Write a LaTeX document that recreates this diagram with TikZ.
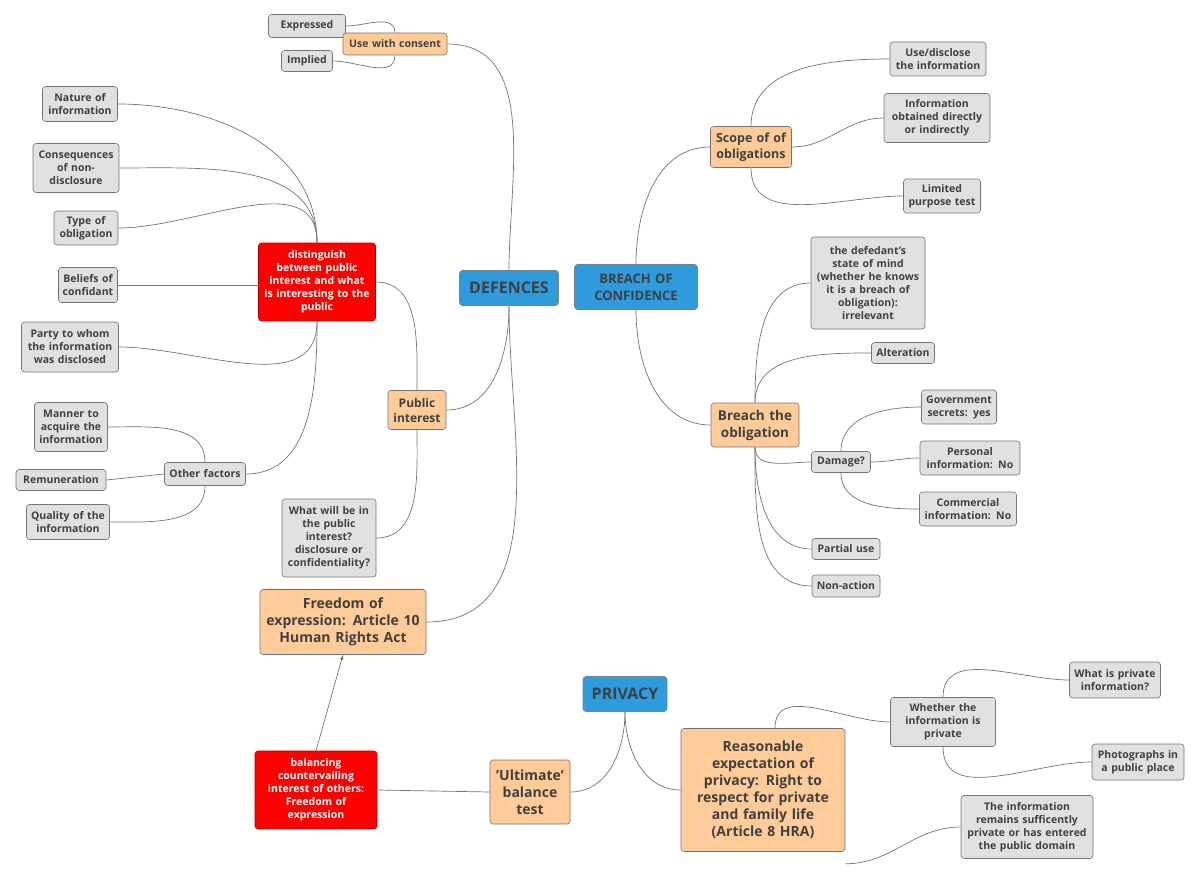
\documentclass[tikz,border=0pt]{standalone}
\usepackage{fontspec}
\setmainfont{Open Sans}
\begin{document}
\begin{tikzpicture}[x=1pt,y=-1pt,
 base/.style={rounded corners=3pt,draw=black!55,line width=0.6pt,align=center,inner xsep=0pt,inner ysep=1pt,font=\bfseries\fontsize{10.5}{13}\selectfont,text=black!75},
 g/.style={base,fill=black!12},
 o/.style={base,fill=orange!40!white,draw=black!55},
 ob/.style={o,font=\bfseries\fontsize{14}{17}\selectfont},
 r/.style={base,fill=red,text=white,draw=red!70!black},
 b/.style={base,fill=cyan!75!blue!85!white,draw=black!50,font=\bfseries\fontsize{16}{19}\selectfont,text=black!75},
 c/.style={draw=black!55,line width=0.7pt}]
\useasboundingbox (0,0) rectangle (1200,875);
\newcommand\nd[7]{\node[#6,text width=#4pt,minimum height=#5pt] (#1) at (#2,#3) {#7};}
\nd{exp}{307}{26}{77}{23}{g}{Expressed}
\nd{uwc}{395}{44}{104}{22}{o}{Use with consent}
\nd{imp}{307}{61}{51}{21}{g}{Implied}
\nd{def}{509}{288}{99}{35}{b}{DEFENCES}
\nd{boc}{636}{287}{123}{45}{b,font=\bfseries\fontsize{13}{17}\selectfont}{BREACH OF\\CONFIDENCE}
\nd{nat}{80}{104}{75}{35}{g}{Nature of\\information}
\nd{con}{76}{168}{86}{49}{g}{Consequences\\of non-\\disclosure}
\nd{typ}{86}{228}{64}{34}{g}{Type of\\obligation}
\nd{bel}{88}{285}{59}{35}{g}{Beliefs of\\confidant}
\nd{par}{70}{347}{97}{50}{g}{Party to whom\\the information\\was disclosed}
\nd{dis}{317}{282}{117}{78}{r}{distinguish\\between public\\interest and what\\is interesting to the\\public}
\nd{pub}{417}{410}{58}{39}{o,font=\bfseries\fontsize{12}{15}\selectfont}{Public\\interest}
\nd{man}{71}{427}{73}{49}{g}{Manner to\\acquire the\\information}
\nd{rem}{61}{480}{90}{21}{g}{Remuneration}
\nd{oth}{205}{474}{81}{23}{g}{Other factors}
\nd{qua}{68}{522}{83}{35}{g}{Quality of the\\information}
\nd{wha}{329}{538}{94}{78}{g}{What will be in\\the public\\interest?\\disclosure or\\confidentiality?}
\nd{fre}{343}{622}{166}{65}{ob}{Freedom of\\expression: Article 10\\Human Rights Act}
\nd{bal}{316}{790}{122}{78}{r}{balancing\\countervailing\\interest of others:\\Freedom of\\expression}
\nd{ult}{530}{792}{80}{64}{ob}{'Ultimate'\\balance\\test}
\nd{pri}{625}{694}{84}{35}{b}{PRIVACY}
\nd{rea}{763}{790}{164}{123}{ob}{Reasonable\\expectation of\\privacy: Right to\\respect for private\\and family life\\(Article 8 HRA)}
\nd{whe}{943}{722}{105}{49}{g}{Whether the\\information is\\private}
\nd{wip}{1115}{680}{91}{36}{g}{What is private\\information?}
\nd{pho}{1138}{762}{92}{36}{g}{Photographs in\\a public place}
\nd{tir}{1027}{827}{132}{63}{g}{The information\\remains sufficently\\private or has entered\\the public domain}
\nd{sco}{751}{147}{81}{41}{o,font=\bfseries\fontsize{12.5}{16}\selectfont}{Scope of of\\obligations}
\nd{use}{938}{59}{96}{34}{g}{Use/disclose\\the information}
\nd{inf}{937}{118}{106}{49}{g}{Information\\obtained directly\\or indirectly}
\nd{lim}{942}{196}{77}{34}{g}{Limited\\purpose test}
\nd{bre}{755}{425}{88}{44}{o,font=\bfseries\fontsize{13.5}{17}\selectfont}{Breach the\\obligation}
\nd{sta}{868}{283}{114}{92}{g}{the defedant's\\state of mind\\(whether he knows\\it is a breach of\\obligation):\\irrelevant}
\nd{alt}{903}{353}{63}{21}{g}{Alteration}
\nd{dam}{841}{462}{59}{21}{g}{Damage?}
\nd{gov}{959}{407}{75}{34}{g}{Government\\secrets: yes}
\nd{per}{970}{458}{100}{34}{g}{Personal\\information: No}
\nd{com}{968}{509}{97}{34}{g}{Commercial\\information: No}
\nd{pu}{846}{549}{68}{21}{g}{Partial use}
\nd{non}{846}{586}{68}{22}{g}{Non-action}
% connectors
\draw[c] (uwc.east) to[out=0,in=90] (def.north);
\draw[c] (pub.east) to[out=0,in=-90] (def.south);
\draw[c] (fre.east) to[out=0,in=-90] (def.south);
\draw[c] (exp.east) to[out=0,in=90] (uwc.north);
\draw[c] (imp.east) to[out=0,in=-90] (uwc.south);
\draw[c] (sco.west) to[out=180,in=90] (boc.north);
\draw[c] (bre.west) to[out=180,in=-90] (boc.south);
\draw[c] (nat.east) to[out=0,in=90] (dis.north);
\draw[c] (con.east) to[out=0,in=90] (dis.north);
\draw[c] (typ.east) to[out=0,in=90] (dis.north);
\draw[c] (bel.east) -- (dis.west |- bel.east);
\draw[c] (par.east) to[out=0,in=-90] (dis.south);
\draw[c] (oth.east) to[out=0,in=-90] (dis.south);
\draw[c] (dis.east) to[out=0,in=90] (pub.north);
\draw[c] (wha.east) to[out=0,in=-90] (pub.south);
\draw[c] (man.east) to[out=0,in=90] (oth.north);
\draw[c] (rem.east) -- (oth.west);
\draw[c] (qua.east) to[out=0,in=-90] (oth.south);
\draw[c,-latex] (bal.north) -- (fre.south);
\draw[c] (bal.east) -- (ult.west);
\draw[c] (ult.east) to[out=0,in=-90] (pri.south);
\draw[c] (rea.west) to[out=180,in=-90] (pri.south);
\draw[c] ([xshift=12pt]rea.north) to[out=90,in=180] (whe.west);
\draw[c] ([yshift=-12pt]rea.south east) to[out=0,in=180] (tir.west);
\draw[c] (whe.north) to[out=90,in=180] (wip.west);
\draw[c] (whe.south) to[out=-90,in=180] (pho.west);
\draw[c] (sco.north) to[out=90,in=180] (use.west);
\draw[c] (sco.east) to[out=0,in=180] (inf.west);
\draw[c] (sco.south) to[out=-90,in=180] (lim.west);
\draw[c] (bre.north) to[out=90,in=180] (sta.west);
\draw[c] (bre.north) to[out=90,in=180] (alt.west);
\draw[c] (bre.south) to[out=-90,in=180] (dam.west);
\draw[c] (bre.south) to[out=-90,in=180] (pu.west);
\draw[c] (bre.south) to[out=-90,in=180] (non.west);
\draw[c] (dam.north) to[out=90,in=180] (gov.west);
\draw[c] (dam.east) to[out=0,in=180] (per.west);
\draw[c] (dam.south) to[out=-90,in=180] (com.west);
\end{tikzpicture}
\end{document}
